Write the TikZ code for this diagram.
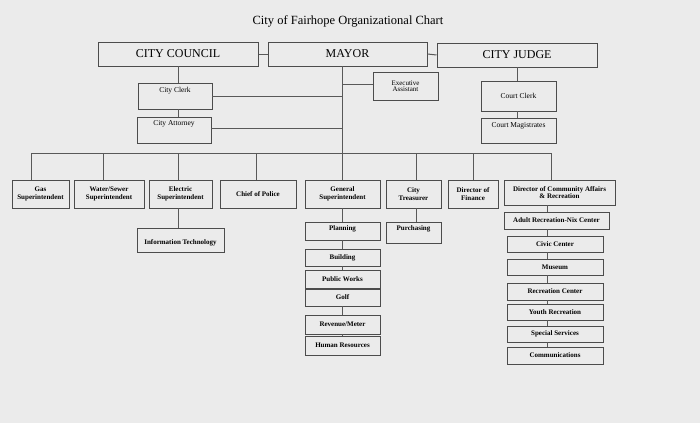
\documentclass[tikz,border=0pt]{standalone}
\usepackage{fontspec}
\setmainfont{Liberation Serif}
\begin{document}
\begin{tikzpicture}[x=1pt,y=-1pt,
  bx/.style={draw=black!70,line width=1pt,inner sep=0pt,align=center,font=\fontsize{7}{7.5}\selectfont\bfseries},
  big/.style={bx,font=\fontsize{12}{13}\selectfont},
  mid/.style={bx,font=\fontsize{7.5}{7.5}\selectfont},
  lbl/.style={draw=none,inner sep=0pt,align=center},
  ln/.style={draw=black!65,line width=1pt}]
\fill[black!8] (0,0) rectangle (700,423);
\useasboundingbox (0,0) rectangle (700,423);
\node[font=\fontsize{12.5}{13}\selectfont] (title) at (348,21) {City of Fairhope Organizational Chart};
% top row
\node[big,minimum width=160,minimum height=24] (cc) at (178,54) {CITY COUNCIL};
\node[big,minimum width=159,minimum height=24] (mayor) at (347.5,54) {MAYOR};
\node[big,minimum width=160,minimum height=24] (judge) at (517,55) {CITY JUDGE};
\draw[ln] (cc.east) -- (mayor.west);
\draw[ln] (mayor.east) -- (judge.west);
% second level
\node[mid,minimum width=65,minimum height=28,font=\fontsize{7}{6}\selectfont] (exec) at (405.5,86) {Executive\\Assistant};
\node[mid,minimum width=74,minimum height=26] (clerk) at (175,96) {};
\node[lbl,font=\fontsize{7.5}{7.5}\selectfont] (clerkt) at (175,91) {City Clerk};
\node[mid,minimum width=74,minimum height=26] (atty) at (174,130) {};
\node[lbl,font=\fontsize{7.5}{7.5}\selectfont] (attyt) at (174,124) {City Attorney};
\node[mid,minimum width=75,minimum height=30] (cclerk) at (518.5,96) {Court Clerk};
\node[mid,minimum width=75,minimum height=25] (cmag) at (518.5,130.5) {};
\node[lbl,font=\fontsize{7.5}{7.5}\selectfont] (cmagt) at (518.5,126) {Court Magistrates};
\draw[ln] (178,66) -- (178,83);
\draw[ln] (178,109) -- (178,117);
\draw[ln] (517,67) -- (517,81);
\draw[ln] (517,111) -- (517,118);
\draw[ln] (342,66) -- (342,180);
\draw[ln] (342,84) -- (exec.west |- 342,84);
\draw[ln] (212,96) -- (342,96);
\draw[ln] (211,128) -- (342,128);
% bar
\draw[ln] (31,153) -- (551,153);
\foreach \x in {31,103,178,256,416,473,551} \draw[ln] (\x,153) -- (\x,180);
% row
\node[bx,minimum width=57,minimum height=28] (gas) at (40.5,194) {Gas\\Superintendent};
\node[bx,minimum width=70,minimum height=28] (water) at (109,194) {Water/Sewer\\Superintendent};
\node[bx,minimum width=63,minimum height=28] (elec) at (180.5,194) {Electric\\Superintendent};
\node[bx,minimum width=76,minimum height=28] (police) at (258,194) {Chief of Police};
\node[bx,minimum width=75,minimum height=28] (gen) at (342.5,194) {General\\Superintendent};
\node[bx,minimum width=55,minimum height=28] (treas) at (413.5,194) {City\\Treasurer};
\node[bx,minimum width=50,minimum height=28] (fin) at (473,194) {Director of\\Finance};
\node[bx,minimum width=111,minimum height=25] (comm) at (559.5,192.5) {Director of Community Affairs\\\& Recreation};
% electric
\node[bx,minimum width=87,minimum height=24] (it) at (180.5,240) {};
\node[bx,lbl] (itt) at (180.5,243) {Information Technology};
\draw[ln] (178,208) -- (178,228);
% general
\node[bx,minimum width=75,minimum height=18] (plan) at (342.5,231) {};
\node[bx,lbl] (plant) at (342.5,229) {Planning};
\node[bx,minimum width=75,minimum height=17] (build) at (342.5,257.5) {Building};
\node[bx,minimum width=75,minimum height=18] (pw) at (342.5,279) {Public Works};
\node[bx,minimum width=75,minimum height=17] (golf) at (342.5,297.5) {Golf};
\node[bx,minimum width=75,minimum height=19] (rev) at (342.5,324.5) {Revenue/Meter};
\node[bx,minimum width=75,minimum height=19] (hr) at (342.5,345.5) {Human Resources};
\draw[ln] (342,208) -- (342,222);
\draw[ln] (342,240) -- (342,249);
\draw[ln] (342,266) -- (342,270);
\draw[ln] (342,306) -- (342,315);
\draw[ln] (342,334) -- (342,336);
% treasurer
\node[bx,minimum width=55,minimum height=21] (purch) at (413.5,232.5) {};
\node[bx,lbl] (purcht) at (413.5,229) {Purchasing};
\draw[ln] (416,208) -- (416,222);
% community
\node[bx,minimum width=105,minimum height=17] (adult) at (556.5,220.5) {Adult Recreation-Nix Center};
\node[bx,minimum width=96,minimum height=16] (civic) at (555,244) {Civic Center};
\node[bx,minimum width=96,minimum height=16] (mus) at (555,267) {Museum};
\node[bx,minimum width=96,minimum height=17] (rec) at (555,291.5) {Recreation Center};
\node[bx,minimum width=96,minimum height=16] (youth) at (555,312) {Youth Recreation};
\node[bx,minimum width=96,minimum height=16] (spec) at (555,334) {Special Services};
\node[bx,minimum width=96,minimum height=17] (cmm) at (555,355.5) {Communications};
\draw[ln] (547,205) -- (547,212);
\draw[ln] (547,229) -- (547,236);
\draw[ln] (547,252) -- (547,259);
\draw[ln] (547,275) -- (547,283);
\draw[ln] (547,300) -- (547,304);
\draw[ln] (547,320) -- (547,326);
\draw[ln] (547,342) -- (547,347);
\end{tikzpicture}
\end{document}
